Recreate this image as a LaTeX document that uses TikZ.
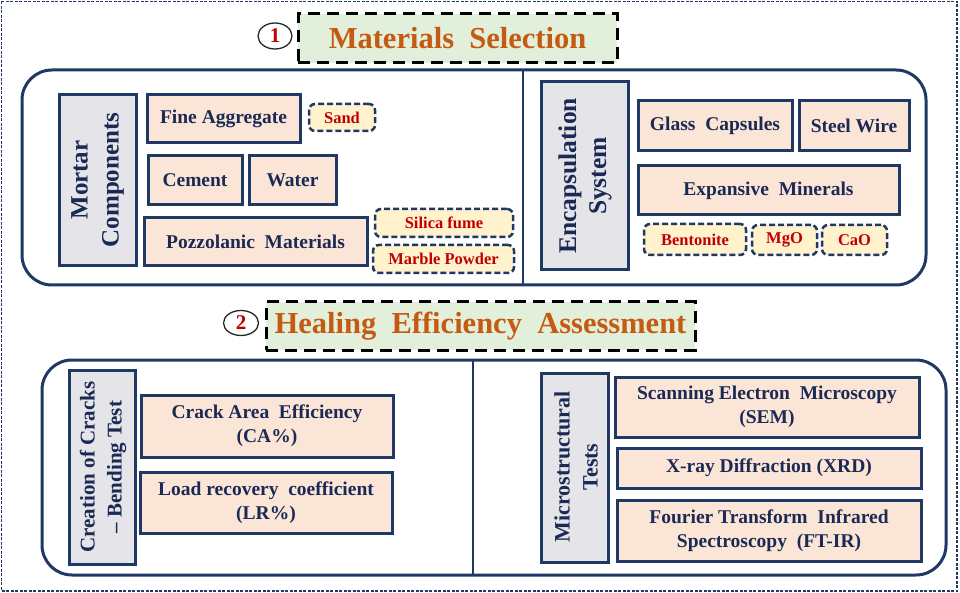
\documentclass[tikz,border=0pt]{standalone}
\usepackage{fontspec}
\setmainfont{Liberation Serif}
\usetikzlibrary{shapes.geometric}
\definecolor{navy}{HTML}{1F3864}
\definecolor{txtc}{HTML}{1B2A55}
\definecolor{peach}{HTML}{FBE5D6}
\definecolor{greyf}{HTML}{E5E5E9}
\definecolor{ttlfill}{HTML}{E2EFDA}
\definecolor{orng}{HTML}{C55A11}
\definecolor{redt}{HTML}{C00000}
\definecolor{yell}{HTML}{FFF2CC}
\newcommand\mybox[7]{\node[#2, minimum width={(#5)-(#3)}, minimum height={(#6)-(#4)}] (#1) at ({((#3)+(#5))/2},{((#4)+(#6))/2}) {#7};}
\tikzset{
  pbox/.style={draw=navy, line width=3pt, fill=peach, text=txtc, align=center, inner sep=0pt,
    font=\bfseries\fontsize{19.5}{24}\selectfont},
  gbox/.style={draw=navy, line width=3pt, fill=greyf, inner sep=0pt},
  vtext/.style={rotate=90, align=center, text=txtc, inner sep=0pt},
  dbox/.style={draw=navy, line width=2.5pt, dash pattern=on 6pt off 3pt, fill=yell, rounded corners=6pt,
    text=redt, inner sep=0pt, font=\bfseries\fontsize{16.5}{18}\selectfont},
  tbox/.style={draw=black, line width=3pt, dash pattern=on 12pt off 7pt, fill=ttlfill, text=orng,
    inner sep=0pt, font=\bfseries\fontsize{30.5}{32}\selectfont},
  num/.style={ellipse, draw=black!85, line width=1.3pt, fill=white, text=redt, inner sep=0pt,
    font=\bfseries\fontsize{21}{22}\selectfont},
  panel/.style={draw=navy, line width=3pt, rounded corners=30pt, inner sep=0pt},
  divider/.style={draw=navy, line width=2pt}
}
\begin{document}
\begin{tikzpicture}[x=1pt,y=-1pt]
\useasboundingbox (0,0) rectangle (960,593);
\draw[navy, line width=1.8pt, dash pattern=on 3pt off 1.5pt] (1.5,1.5) rectangle (957,591);

% ---------- Section 1 ----------
\mybox{top}{panel}{22}{70}{926}{285}{}
\coordinate (d1a) at (523,70);
\coordinate (d1b) at (523,286);
\draw[divider] (d1a) -- (d1b);

\mybox{t1}{tbox}{298}{14}{617}{63}{Materials\ \ Selection}
\node[num, minimum width=34pt, minimum height=26pt] (n1) at (275,36) {1};

\mybox{mc}{gbox}{59}{95}{136}{266}{}
\node[vtext, font=\bfseries\fontsize{25}{31}\selectfont] (mct) at (97.5,180) {Mortar\\Components};
\mybox{fa}{pbox}{147}{95}{300}{143}{Fine Aggregate}
\mybox{sand}{dbox}{309}{104}{375}{131}{Sand}
\mybox{cem}{pbox}{148}{156}{242}{205}{Cement}
\mybox{wat}{pbox}{249}{156}{336}{205}{Water}
\mybox{poz}{pbox}{144}{218}{367}{266}{Pozzolanic\ \ Materials}
\mybox{sil}{dbox}{375}{209}{513}{237}{Silica fume}
\mybox{mar}{dbox}{373}{245}{514}{273}{Marble Powder}

\mybox{es}{gbox}{541}{82}{628}{270}{}
\node[vtext, font=\bfseries\fontsize{25.5}{30}\selectfont] (est) at (585,176) {Encapsulation\\System};
\mybox{gc}{pbox}{638}{101}{792}{151}{Glass\ \ Capsules}
\mybox{sw}{pbox}{799}{101}{909}{151}{Steel Wire}
\mybox{em}{pbox}{638}{166}{899}{215}{Expansive\ \ Minerals}
\mybox{ben}{dbox}{644}{224}{746}{255}{Bentonite}
\mybox{mgo}{dbox}{752}{225}{817}{255}{MgO}
\mybox{cao}{dbox}{822}{225}{887}{255}{CaO}

% ---------- Section 2 ----------
\mybox{bot}{panel}{42}{360}{946}{575}{}
\coordinate (d2a) at (473,360);
\coordinate (d2b) at (473,575);
\draw[divider] (d2a) -- (d2b);

\mybox{t2}{tbox}{266}{302}{695}{350}{Healing\ \ Efficiency\ \ Assessment}
\node[num, minimum width=35pt, minimum height=25pt] (n2) at (241,323) {2};

\mybox{cc}{gbox}{69}{370}{135}{564}{}
\node[vtext, font=\bfseries\fontsize{21}{27}\selectfont] (cct) at (103,467) {Creation of Cracks\\– Bending Test};
\mybox{ca}{pbox}{141}{395}{393}{457}{Crack Area\ \ Efficiency\\(CA\%)}
\mybox{lr}{pbox}{140}{472}{392}{533}{Load recovery\ \ coefficient\\(LR\%)}

\mybox{ms}{gbox}{541}{373}{608}{562}{}
\node[vtext, font=\bfseries\fontsize{22}{28}\selectfont] (mst) at (576,467) {Microstructural\\Tests};
\mybox{sem}{pbox}{615}{377}{919}{437}{Scanning Electron\ \ Microscopy\\(SEM)}
\mybox{xrd}{pbox}{617}{448}{921}{488}{X-ray Diffraction (XRD)}
\mybox{ftir}{pbox}{617}{500}{921}{561}{Fourier Transform\ \ Infrared\\Spectroscopy\ \ (FT-IR)}
\end{tikzpicture}
\end{document}
